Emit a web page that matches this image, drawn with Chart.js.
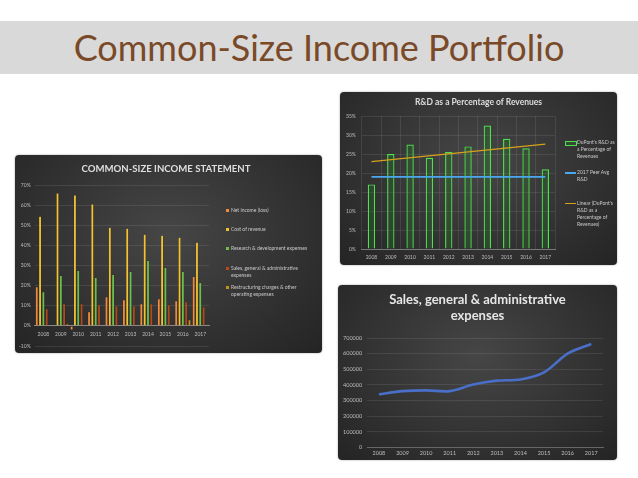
<!DOCTYPE html>
<html>
<head>
<meta charset="utf-8">
<script src="https://cdn.jsdelivr.net/npm/chart.js@4"></script>
<style>
  html, body { margin: 0; padding: 0; background: #fff; }
  body { width: 638px; height: 478px; position: relative; overflow: hidden; font-family: Lato, sans-serif; }
  .band { position: absolute; left: 0; top: 21px; width: 638px; height: 53px; background: #d9d9d9; }
  .band h1 { margin: 0; font-weight: normal; font-size: 36px; line-height: 53px; text-align: center; color: #7a4a28; letter-spacing: 0; }
  .panel { position: absolute; background: radial-gradient(ellipse at 50% 40%, #464646 0%, #333 55%, #242424 100%); border-radius: 4px; box-shadow: 0 0 2px #999; }
  .panel canvas { position: absolute; left: 0; top: 0; }
  .ctitle { position: absolute; left: 0; width: 100%; text-align: center; font-weight: bold; color: #dedede; white-space: nowrap; }
  .legend { position: absolute; color: #c8c8c8; font-size: 5px; line-height: 7px; }
  .legend div { position: absolute; }
  .legend i { position: absolute; display: block; }
</style>
</head>
<body>
<div class="band"><h1>Common-Size Income Portfolio</h1></div>

<div class="panel" id="p1" style="left:15px;top:155px;width:307px;height:198px;">
  <canvas id="c1" width="307" height="198"></canvas>
  <div class="ctitle" style="top:8px;font-size:9.6px;width:302px;">COMMON-SIZE INCOME STATEMENT</div>
  <div class="legend" id="l1"></div>
</div>
<div class="panel" id="p2" style="left:340px;top:92px;width:277px;height:173px;">
  <canvas id="c2" width="277" height="173"></canvas>
  <div class="ctitle" style="top:5px;font-size:8.5px;">R&amp;D as a Percentage of Revenues</div>
  <div class="legend" id="l2"></div>
</div>
<div class="panel" id="p3" style="left:338px;top:285px;width:279px;height:175px;">
  <canvas id="c3" width="279" height="175"></canvas>
  <div class="ctitle" style="top:6px;font-size:13px;line-height:16px;color:#e6e6e6;">Sales, general &amp; administrative<br>expenses</div>
</div>

<script>
// Data.
const years = ['2008', '2009', '2010', '2011', '2012', '2013', '2014', '2015', '2016', '2017'];

const netIncome = [19.5, -0.5, -2, 7, 14.5, 13, 11, 13.5, 12.5, 24.5];
const costOfRevenue = [54.5, 66, 65, 60.5, 49, 48.5, 45.5, 45, 44, 41.5];
const researchDev = [17, 25, 27.5, 24, 25.5, 27, 32.5, 29, 27, 21.5];
const salesGenAdmin = [8.5, 11, 11, 10.5, 10, 10, 11, 10.5, 12, 9.5];
const restructuring = [0, 1, 0, 0, 0, 0, 0, 0, 3, 0];
const pctTicks = [-10, 0, 10, 20, 30, 40, 50, 60, 70];

const rdPercent = [17, 25, 27.5, 24, 25.5, 27, 32.5, 29, 26.5, 21];
const peerAvg = [19, 19, 19, 19, 19, 19, 19, 19, 19, 19];
const rdTrend = [23, null, null, null, null, null, null, null, null, 27.6];

const sgaExpenses = [340000, 360000, 365000, 360000, 402000, 427000, 435000, 480000, 600000, 662000];

const tickColor = '#bdbdbd';
const gridColor = 'rgba(255,255,255,0.09)';
Chart.defaults.font.family = 'Lato, sans-serif';
Chart.defaults.animation = false;

function htmlLegend(el, items) {
  items.forEach((it) => {
    const m = document.createElement('i');
    Object.assign(m.style, it.marker);
    el.appendChild(m);
    const t = document.createElement('div');
    t.style.left = it.x + 'px';
    t.style.top = it.y + 'px';
    t.style.width = it.w + 'px';
    t.textContent = it.text;
    el.appendChild(t);
  });
}

// Chart 1: common-size income statement
const s1 = [
  {label: 'Net income (loss)', data: netIncome, backgroundColor: '#f08a3c'},
  {label: 'Cost of revenue', data: costOfRevenue, backgroundColor: '#f2c230'},
  {label: 'Research & development expenses', data: researchDev, backgroundColor: '#6cc04a'},
  {label: 'Sales, general & administrative expenses', data: salesGenAdmin, backgroundColor: '#b4491a'},
  {label: 'Restructuring charges & other operating expenses', data: restructuring, backgroundColor: '#c8901a'},
];
new Chart(document.getElementById('c1'), {
  type: 'bar',
  data: {
    labels: years,
    datasets: s1.map((s) => ({
      label: s.label, data: s.data, backgroundColor: s.backgroundColor,
      borderColor: 'rgba(0,0,0,0.25)', borderWidth: 0.5,
    })),
  },
  options: {
    responsive: false,
    layout: {padding: {left: 0, right: 113, top: 30, bottom: 2}},
    plugins: {legend: {display: false}, tooltip: {enabled: false}},
    datasets: {bar: {categoryPercentage: 0.95, barPercentage: 0.85}},
    scales: {
      x: {
        position: {y: 0},
        grid: {display: false, drawTicks: false},
        border: {color: '#8a8a8a'},
        ticks: {color: tickColor, font: {size: 5}, padding: 6, maxRotation: 0, autoSkip: false},
      },
      y: {
        min: -10, max: 70,
        afterBuildTicks: (ax) => { ax.ticks = pctTicks.map((v) => ({value: v})); },
        grid: {color: gridColor, drawTicks: false},
        border: {display: false},
        ticks: {color: tickColor, font: {size: 5}, padding: 4, callback: (v) => v + '%'},
      },
    },
  },
});
htmlLegend(document.getElementById('l1'), s1.map((s, i) => ({
  text: s.label,
  x: 216, y: [52, 71, 90, 110, 129][i], w: 84,
  marker: {left: '211px', top: ([52, 71, 90, 110, 129][i] + 1.5) + 'px', width: '3px', height: '3px', background: s.backgroundColor},
})));

// Chart 2: R&D as a percentage of revenues
new Chart(document.getElementById('c2'), {
  type: 'bar',
  data: {
    labels: years,
    datasets: [
      {
        type: 'line', label: 'Linear (DuPont\'s R&D as a Percentage of Revenues)', data: rdTrend,
        borderColor: '#d6a21c', borderWidth: 1.2, pointRadius: 0, spanGaps: true, order: 0,
      },
      {
        type: 'line', label: '2017 Peer Avg R&D', data: peerAvg,
        borderColor: '#4aa8f0', borderWidth: 1.8, pointRadius: 0, order: 1,
      },
      {
        label: 'DuPont\'s R&D as a Percentage of Revenues', data: rdPercent,
        backgroundColor: 'rgba(40,130,40,0.25)', borderColor: '#4fe04f', borderWidth: 1.2, order: 2,
        categoryPercentage: 1, barPercentage: 0.38,
      },
    ],
  },
  options: {
    responsive: false,
    layout: {padding: {left: 0, right: 62, top: 24, bottom: 0}},
    plugins: {legend: {display: false}, tooltip: {enabled: false}},
    scales: {
      x: {
        grid: {color: gridColor, offset: true, drawTicks: false},
        border: {color: '#777'},
        ticks: {color: tickColor, font: {size: 5}, padding: 5, maxRotation: 0, autoSkip: false},
      },
      y: {
        min: 0, max: 35,
        grid: {color: gridColor, drawTicks: false},
        border: {display: false},
        ticks: {stepSize: 5, color: tickColor, font: {size: 5}, padding: 6, callback: (v) => v + '%'},
      },
    },
  },
});
htmlLegend(document.getElementById('l2'), [
  {text: 'DuPont\'s R&D as a Percentage of Revenues', x: 237, y: 47, w: 40,
   marker: {left: '225px', top: '49px', width: '10px', height: '3px', border: '1px solid #4fe04f', background: 'rgba(40,130,40,0.3)'}},
  {text: '2017 Peer Avg R&D', x: 237, y: 77, w: 40,
   marker: {left: '225px', top: '80px', width: '11px', height: '2px', background: '#4aa8f0'}},
  {text: 'Linear (DuPont\'s R&D as a Percentage of Revenues)', x: 237, y: 108, w: 40,
   marker: {left: '225px', top: '111px', width: '11px', height: '1.2px', background: '#d6a21c'}},
]);

// Chart 3: SG&A expenses
new Chart(document.getElementById('c3'), {
  type: 'line',
  data: {
    labels: years,
    datasets: [{
      label: 'Sales, general & administrative expenses', data: sgaExpenses,
      borderColor: '#4a6fc8', borderWidth: 2.6, pointRadius: 0, tension: 0.3,
    }],
  },
  options: {
    responsive: false,
    layout: {padding: {left: 0, right: 14, top: 53, bottom: 0}},
    plugins: {legend: {display: false}, tooltip: {enabled: false}},
    scales: {
      x: {
        offset: true,
        grid: {display: false, drawTicks: false},
        border: {color: '#666'},
        ticks: {color: tickColor, font: {size: 5.5}, padding: 3, maxRotation: 0, autoSkip: false},
      },
      y: {
        min: 0, max: 700000,
        grid: {color: gridColor, drawTicks: false},
        border: {display: false},
        ticks: {stepSize: 100000, color: tickColor, font: {size: 5.5}, padding: 5, callback: (v) => String(v)},
      },
    },
  },
});
</script>
</body>
</html>
